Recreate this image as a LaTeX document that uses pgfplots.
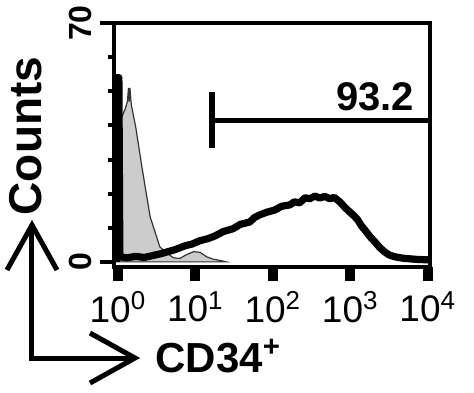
\documentclass[border=0pt]{standalone}
\usepackage{pgfplots}
\pgfplotsset{compat=1.18}
\usepackage{fontspec}
\setmainfont{Liberation Sans}
\begin{document}
\begin{tikzpicture}
\path[use as bounding box] (-57pt,-62.5pt) rectangle (180pt,133.5pt);
\begin{axis}[
  at={(0pt,0pt)}, anchor=south west,
  scale only axis, width=158pt, height=122pt,
  xmode=log, xmin=0.891, xmax=10700,
  ymin=-1.5, ymax=70,
  axis line style={line width=2pt},
  xtick={1,10,100,1000,10000},
  xticklabels={10\textsuperscript{0},10\textsuperscript{1},10\textsuperscript{2},10\textsuperscript{3},10\textsuperscript{4}},
  xminorticks=false,
  tick align=outside,
  xtick pos=lower, ytick pos=left,
  major tick length=7pt, minor tick length=3pt,
  x tick style={line width=5pt, black},
  y tick style={line width=2pt, black},
  ytick={0,70}, yticklabels={0,70},
  minor ytick={10,20,30,40,50,60},
  xticklabel shift=5pt, yticklabel shift=4pt,
  xticklabel style={font=\fontsize{18.5}{20}\selectfont, inner sep=0pt, anchor=north},
  yticklabel style={font=\fontsize{16}{18}\selectfont\bfseries, rotate=90, anchor=south, inner sep=0pt},
]
% isotype control (grey)
\addplot[fill=gray!40, draw=black!80, line width=0.6pt] coordinates {
 (0.95,0) (0.95,40) (1.06,40.5) (1.15,43) (1.25,45) (1.33,47) (1.37,51) (1.40,47) (1.43,51) (1.49,46)
 (1.70,39.5) (2.07,27) (2.61,13.2) (3.48,4.4) (4.29,2.6) (5.2,1.2) (6.3,1.0) (7.5,2.0)
 (9.5,3.0) (11.5,2.8) (14,1.5) (17,0.8) (22,0.3) (25,0)
} -- cycle;
% CD34 stained (black)
\addplot[black, line width=3.6pt, line join=round] coordinates {
 (0.96,0) (0.96,54) (1.03,54) (1.06,1.5) (1.3,1.2) (1.7,1.6) (2.2,1.3) (3.0,2.0) (3.6,2.4)
 (4.29,2.9) (5.5,3.6) (7.32,4.7) (9.0,5.2) (11.4,6.2) (14.5,6.8) (17.9,7.6) (23,8.9)
 (30.5,9.7) (38,11.0) (50.5,11.7) (58,13.0) (68,13.8) (85,14.6) (106,15.2) (130,16.3)
 (166,16.7) (190,17.6) (223,17.3) (260,18.8) (300,18.5) (350,19.3) (404,18.7) (470,19.2)
 (544,18.5) (620,18.9) (732,17.6) (850,16.0) (986,14.6) (1120,13.5) (1250,12.3) (1400,10.5)
 (1538,9.4) (1800,7.4) (2070,5.9) (2400,4.2) (2786,2.9) (3200,2.0) (3750,1.5) (4700,1.1)
 (5860,0.9) (7500,0.7) (10700,0.6)
};
% gate
\addplot[black, line width=3pt] coordinates {(16.3,33.4) (16.3,49.8)};
\addplot[black, line width=2.5pt] coordinates {(16.3,41.3) (10700,41.3)};
\node[anchor=base east, inner sep=0pt, font=\fontsize{20}{22}\selectfont\bfseries] at (axis cs:6760,44.5) {93.2};
\end{axis}
% axis descriptions with arrows
\draw[line width=2.5pt] (-41pt,21pt) -- (-41pt,-45.5pt) -- (10.5pt,-45.5pt);
\draw[line width=2.5pt] (-53.5pt,-1.5pt) -- (-41pt,21pt) -- (-28.5pt,-1.5pt);
\draw[line width=2.5pt] (-12pt,-33pt) -- (10.5pt,-45.5pt) -- (-12pt,-58pt);
\node[rotate=90, anchor=base, inner sep=0pt, font=\fontsize{23}{26}\selectfont\bfseries] at (-36pt,65.5pt) {Counts};
\node[anchor=base west, inner sep=0pt, font=\fontsize{21}{24}\selectfont\bfseries] at (20.5pt,-52.5pt) {CD34\textsuperscript{+}};
\end{tikzpicture}
\end{document}
